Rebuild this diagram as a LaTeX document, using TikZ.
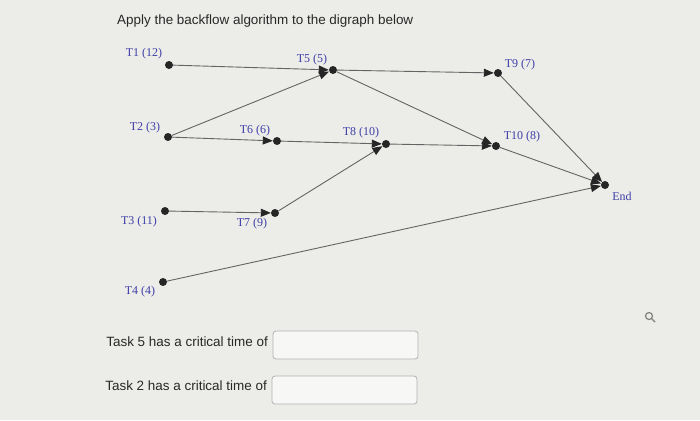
\documentclass[tikz,border=0pt]{standalone}
\usepackage{fontspec}
\setmainfont{Liberation Serif}
\setsansfont{Liberation Sans}
\usetikzlibrary{arrows.meta}
\definecolor{bgcol}{RGB}{236,236,233}
\definecolor{lblcol}{RGB}{62,62,168}
\definecolor{edgecol}{RGB}{100,100,100}
\definecolor{dotcol}{RGB}{38,38,38}
\definecolor{boxcol}{RGB}{178,178,178}
\definecolor{txtcol}{RGB}{40,40,40}

\tikzset{
  task/.style={circle, fill=dotcol, inner sep=0pt, minimum size=8bp},
  lbl/.style={text=lblcol, font=\fontsize{12}{14}\selectfont, inner sep=0pt},
  edge/.style={draw=edgecol, line width=0.9bp, -{Triangle[length=10bp,width=8bp,color=dotcol]}},
  qtext/.style={text=txtcol, font=\sffamily\fontsize{13.5}{16}\selectfont, inner sep=0pt},
  answer/.style={draw=boxcol, fill=white!60!bgcol, rounded corners=3bp, line width=0.8bp}
}

\begin{document}
\begin{tikzpicture}[x=1bp,y=-1bp]
    \fill[bgcol] (0,0) rectangle (700,420);
    \useasboundingbox (0,0) rectangle (700,420);

    \node[qtext, anchor=base west] (title) at (117,24) {Apply the backflow algorithm to the digraph below};

    % tasks
    \node[task] (t1) at (169,65) {};
    \node[task] (t2) at (168,137) {};
    \node[task] (t3) at (165,211) {};
    \node[task] (t4) at (163,282) {};
    \node[task] (t5) at (333,70) {};
    \node[task] (t6) at (277,141) {};
    \node[task] (t7) at (275,213) {};
    \node[task] (t8) at (386,144) {};
    \node[task] (t9) at (498,73) {};
    \node[task] (t10) at (496,146) {};
    \node[task] (end) at (605,185) {};

    \node[lbl] (t1lbl) at (144,54) {T1 (12)};
    \node[lbl] (t2lbl) at (145,128) {T2 (3)};
    \node[lbl] (t3lbl) at (139,222) {T3 (11)};
    \node[lbl] (t4lbl) at (140,292) {T4 (4)};
    \node[lbl] (t5lbl) at (312,60) {T5 (5)};
    \node[lbl] (t6lbl) at (255,131) {T6 (6)};
    \node[lbl] (t7lbl) at (252,224) {T7 (9)};
    \node[lbl] (t8lbl) at (361,133) {T8 (10)};
    \node[lbl] (t9lbl) at (520,65) {T9 (7)};
    \node[lbl] (t10lbl) at (522,137) {T10 (8)};
    \node[lbl] (endlbl) at (622,196) {End};

    % precedences
    \draw[edge] (t1) -- (t5);
    \draw[edge] (t2) -- (t5);
    \draw[edge] (t2) -- (t6);
    \draw[edge] (t3) -- (t7);
    \draw[edge] (t5) -- (t9);
    \draw[edge] (t5) -- (t10);
    \draw[edge] (t6) -- (t8);
    \draw[edge] (t7) -- (t8);
    \draw[edge] (t8) -- (t10);
    \draw[edge] (t9) -- (end);
    \draw[edge] (t10) -- (end);
    \draw[edge] (t4) -- (end);

    % questions
    \node[qtext, anchor=east] (q5) at (268,342) {Task 5 has a critical time of};
    \draw[answer] (273,331) rectangle (418,359);
    \node[qtext, anchor=east] (q2) at (267,386) {Task 2 has a critical time of};
    \draw[answer] (272,376) rectangle (417,404);

    % zoom icon
    \draw[gray, line width=1.2bp] (649,316) circle (3.5);
    \draw[gray, line width=1.4bp] (651.5,318.5) -- (655,322);
\end{tikzpicture}
\end{document}
